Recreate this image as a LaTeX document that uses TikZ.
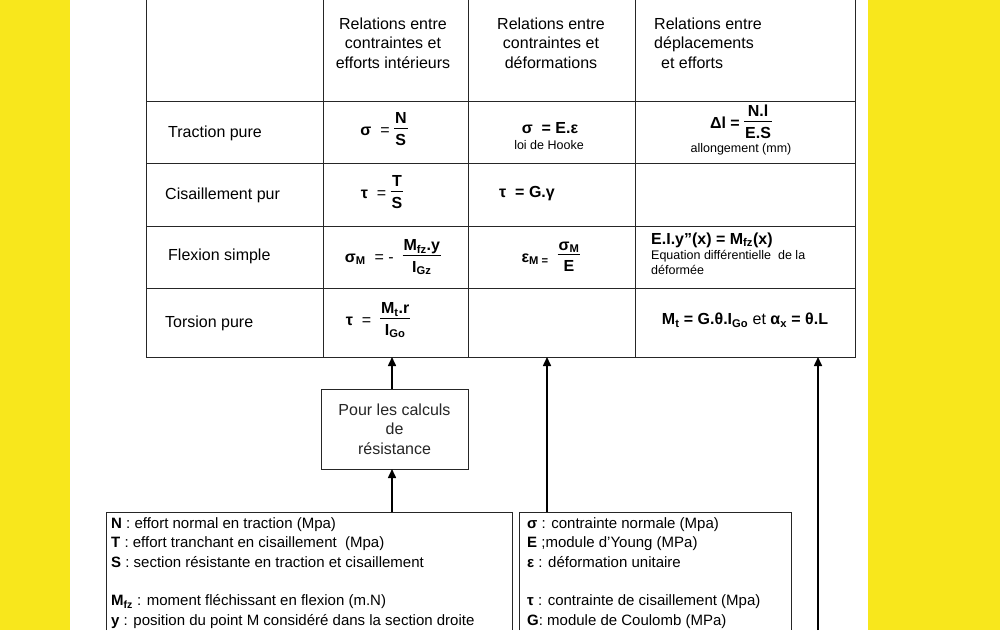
\documentclass[tikz,border=0pt]{standalone}
\usepackage{fontspec}
\setmainfont{Liberation Sans}
\usetikzlibrary{arrows.meta}
\definecolor{bgy}{HTML}{F8E71C}
\newcommand{\fr}[2]{$\vcenter{\hbox{\bfseries\renewcommand{\arraystretch}{0.75}\setlength{\tabcolsep}{1pt}\begin{tabular}{c}#1\\\hline \rule{0pt}{2.0ex}#2\end{tabular}}}$}
\begin{document}
\begin{tikzpicture}[x=1pt,y=-1pt,
  ln/.style={line width=0.9pt,black!85},
  arr/.style={line width=1.6pt,-{Triangle[length=9pt,width=8pt]}},
  txt/.style={font=\fontsize{16}{19.5}\selectfont,align=center,inner sep=0pt},
  sm/.style={font=\fontsize{12.5}{15}\selectfont,align=center,inner sep=0pt},
  lst/.style={font=\fontsize{15}{19.5}\selectfont,align=left,anchor=north west,inner sep=0pt}]
\fill[bgy] (0,0) rectangle (1000,630);
\fill[white] (70,0) rectangle (868,630);
\useasboundingbox (0,0) rectangle (1000,630);
% table
\draw[ln] (146,-2) rectangle (855,357);
\foreach \x in {323,468,635} \draw[ln] (\x,-2) -- (\x,357);
\foreach \y in {101,163,226,288} \draw[ln] (146,\y) -- (855,\y);
% header
\node[txt] (h1) at (393,43) {Relations entre\\contraintes et\\efforts intérieurs};
\node[txt] (h2) at (551,43) {Relations entre\\contraintes et\\déformations};
\node[txt,align=left,anchor=west] (h3) at (654,43) {Relations entre\\déplacements\\\hspace*{7pt}et efforts};
% row labels
\node[txt,anchor=west] (r1) at (168,133) {Traction pure};
\node[txt,anchor=west] (r2) at (165,195) {Cisaillement pur};
\node[txt,anchor=west] (r3) at (168,256) {Flexion simple};
\node[txt,anchor=west] (r4) at (165,323) {Torsion pure};
% col 1
\node[txt] (c11) at (384,131) {\textbf{σ} \ = \fr{N}{S}};
\node[txt] (c12) at (382,194) {\textbf{τ} \ = \fr{T}{S}};
\node[txt] (c13) at (393,258) {\textbf{σ\textsubscript{M}} \ = - \ \fr{M\textsubscript{fz}.y}{I\textsubscript{Gz}}};
\node[txt] (c14) at (378,321) {\textbf{τ} \ = \ \fr{M\textsubscript{t}.r}{I\textsubscript{Go}}};
% col 2
\node[txt] (c21) at (550,128) {\textbf{σ \ = E.ε}};
\node[sm] (c21b) at (549,145) {loi de Hooke};
\node[txt,anchor=west] (c22) at (499,194) {\textbf{τ \ = G.γ}};
\node[txt] (c23) at (551,258) {\textbf{ε\textsubscript{M}\,\textsubscript{=}} \ \fr{σ\textsubscript{M}}{E}};
% col 3
\node[txt] (c31) at (741,124) {\textbf{Δl =} \fr{N.l}{E.S}};
\node[sm] (c31b) at (741,149) {allongement (mm)};
\node[txt,anchor=west] (c33) at (651,240) {\textbf{E.I.y''(x) = M\textsubscript{fz}(x)}};
\node[sm,align=left,anchor=north west] (c33b) at (651,250) {Equation différentielle \ de la\\déformée};
\node[txt] (c34) at (745,320) {\textbf{M\textsubscript{t} = G.θ.I\textsubscript{Go}} et \textbf{α\textsubscript{x} = θ.L}};
% middle box
\node[draw,ln,minimum width=147pt,minimum height=80pt,txt] (pb) at (394.5,429) {Pour les calculs\\de\\résistance};
\coordinate (t1) at (392,357);
\draw[arr] (392,389) -- (t1);
% bottom boxes
\draw[ln] (106,630) |- (512,512) -- (512,630);
\draw[ln] (519,630) |- (791,512) -- (791,630);
\coordinate (bl) at (392,512);
\draw[arr] (bl) -- (392,469);
\coordinate (br) at (547,512);
\draw[arr] (br) -- (547,357);
\coordinate (bx) at (818,630);
\draw[arr] (bx) -- (818,357);
\node[lst] (L1) at (111,517) {\textbf{N} : effort normal en traction (Mpa)\\\textbf{T} : effort tranchant en cisaillement \ (Mpa)\\\textbf{S} : section résistante en traction et cisaillement\\[19pt]\textbf{M\textsubscript{fz}} : moment fléchissant en flexion (m.N)\\\textbf{y} : position du point M considéré dans la section droite};
\node[lst] (L2) at (527,517) {\textbf{σ} : contrainte normale (Mpa)\\\textbf{E} ;module d'Young (MPa)\\\textbf{ε} : déformation unitaire\\[19pt]\textbf{τ} : contrainte de cisaillement (Mpa)\\\textbf{G}: module de Coulomb (MPa)};
\end{tikzpicture}
\end{document}
